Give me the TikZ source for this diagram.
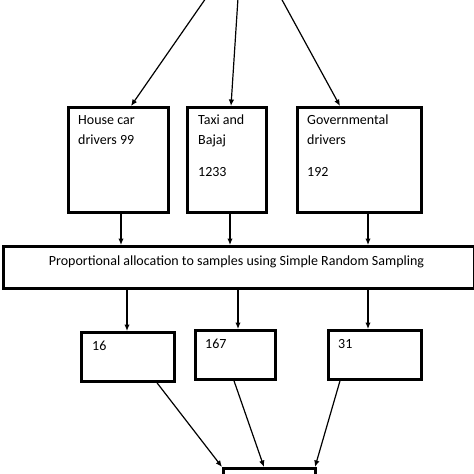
\documentclass[tikz,border=0pt]{standalone}
\usepackage{fontspec}
\setmainfont{Carlito}
\usetikzlibrary{arrows.meta}
\begin{document}
\begin{tikzpicture}[x=1pt,y=-1pt,
  box/.style={draw, line width=2.8pt, inner sep=0pt, anchor=north west},
  txt/.style={anchor=north west, align=left, inner sep=0pt, font=\fontsize{14}{20}\selectfont},
  arr/.style={line width=1.2pt, -{Latex[length=6.5pt,width=5.5pt]}}]
\useasboundingbox (0,0) rectangle (474,474);
% top free ends
\coordinate (s1) at (206,-2);
\coordinate (s2) at (238,-2);
\coordinate (s3) at (281,-2);
% first row boxes
\node[box, minimum width=100, minimum height=105] (A) at (67,106) {};
\node[box, minimum width=79, minimum height=105] (B) at (186,106) {};
\node[box, minimum width=124, minimum height=105] (C) at (296,106) {};
\node[txt] (tA) at (78,115) {House car\\drivers 99};
\node[txt] (tB) at (198,115) {Taxi and\\Bajaj\\[12pt]1233};
\node[txt] (tC) at (307,115) {Governmental\\drivers\\[12pt]192};
% wide box
\node[box, minimum width=471, minimum height=42] (W) at (2,245) {};
\node[font=\fontsize{14}{16}\selectfont, inner sep=0pt] (tW) at (236.5,262) {Proportional allocation to samples using Simple Random Sampling};
% third row boxes
\node[box, minimum width=93, minimum height=49] (D) at (80,331) {};
\node[box, minimum width=80, minimum height=49] (E) at (194,329) {};
\node[box, minimum width=93, minimum height=49] (F) at (327,329) {};
\node[txt] (tD) at (92,341) {16};
\node[txt] (tE) at (205,339) {167};
\node[txt] (tF) at (338,339) {31};
% bottom box (cut off)
\node[box, minimum width=92, minimum height=20] (G) at (222,467) {};
% arrows from top
\draw[arr] (s1) -- (A.north -| 131,0);
\draw[arr] (s2) -- (B.north -| 231,0);
\draw[arr] (s3) -- (C.north -| 340,0);
% arrows to wide box
\draw[arr] (A.south -| 121,0) -- (W.north -| 121,0);
\draw[arr] (B.south -| 230,0) -- (W.north -| 230,0);
\draw[arr] (C.south -| 368,0) -- (W.north -| 368,0);
% arrows to third row
\draw[arr] (W.south -| 127,0) -- (D.north -| 127,0);
\draw[arr] (W.south -| 238,0) -- (E.north -| 238,0);
\draw[arr] (W.south -| 368,0) -- (F.north -| 368,0);
% arrows to bottom box
\draw[arr] (D.south -| 157,0) -- (G.north west);
\draw[arr] (E.south -| 234,0) -- (G.north -| 264,0);
\draw[arr] (F.south -| 340,0) -- (G.north -| 315,0);
\end{tikzpicture}
\end{document}
